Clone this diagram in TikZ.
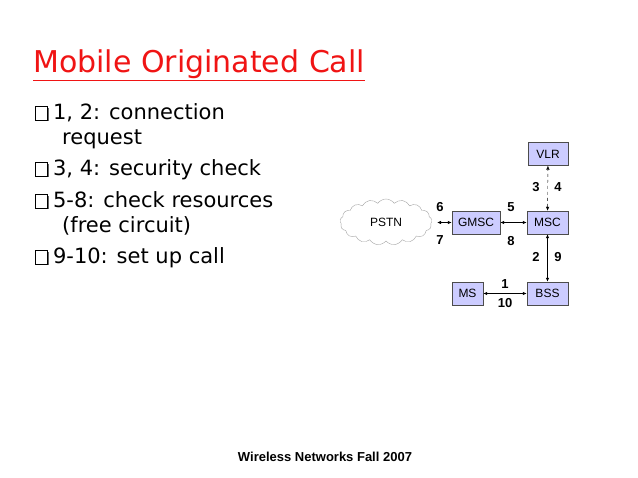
\documentclass[tikz,border=0pt]{standalone}
\usepackage{fontspec}
\setmainfont{DejaVu Sans}
\newfontfamily\arialf{Liberation Sans}
\usetikzlibrary{shapes.symbols,arrows.meta}
\definecolor{boxfill}{RGB}{204,204,255}
\definecolor{titlered}{RGB}{240,20,20}
\tikzset{
  netbox/.style={draw=black!70, fill=boxfill, minimum height=23pt, inner sep=0pt, font=\arialf\fontsize{12}{12}\selectfont},
  lbl/.style={font=\arialf\bfseries\fontsize{13}{13}\selectfont, inner sep=0pt},
  conn/.style={{Latex[length=4pt,width=3.5pt]}-{Latex[length=4pt,width=3.5pt]}, thick},
  bul/.style={anchor=base west, font=\fontsize{21}{21}\selectfont, inner sep=0pt},
}
\begin{document}
\begin{tikzpicture}[x=1pt,y=-1pt]
\useasboundingbox[fill=white] (0,0) rectangle (638,478);
\node[anchor=base west, inner sep=0pt, text=titlered, font=\fontsize{30}{30}\selectfont] (title) at (33,73) {\underline{Mobile Originated Call}};
\newcommand{\qbox}{\tikz[baseline=0pt]{\fill[black!60] (1.5pt,-1.5pt) rectangle (13.5pt,12pt);\draw[fill=white,line width=0.8pt] (0,0) rectangle (12pt,13.5pt);}\hspace{4pt}}
\node[bul] (b1) at (35,120) {\qbox 1, 2: connection};
\node[bul] (b1b) at (62,145) {request};
\node[bul] (b2) at (35,176) {\qbox 3, 4: security check};
\node[bul] (b3) at (35,208) {\qbox 5-8: check resources};
\node[bul] (b3b) at (62,233) {(free circuit)};
\node[bul] (b4) at (35,264) {\qbox 9-10: set up call};
\node[cloud, cloud puffs=17, cloud puff arc=110, aspect=2.2, draw=black!35, fill=white, minimum width=92pt, minimum height=46pt, font=\arialf\fontsize{12}{12}\selectfont] (pstn) at (386,222) {PSTN};
\node[netbox, minimum width=48pt] (gmsc) at (476,222.5) {GMSC};
\node[netbox, minimum width=41pt] (msc) at (547.5,222.5) {MSC};
\node[netbox, minimum width=40pt] (vlr) at (548,154) {VLR};
\node[netbox, minimum width=31pt] (ms) at (467.5,293.5) {MS};
\node[netbox, minimum width=41pt] (bss) at (547.5,293.5) {BSS};
\coordinate (pe) at (437,222.5);
\draw[conn] (pe) -- (gmsc);
\draw[conn] (gmsc) -- (msc);
\draw[conn, dashed, thin] (msc) -- (vlr);
\draw[conn] (msc) -- (bss);
\draw[conn] (ms) -- (bss);
\node[lbl] (l6) at (440,207) {6};
\node[lbl] (l7) at (440,240) {7};
\node[lbl] (l5) at (511,207) {5};
\node[lbl] (l8) at (511,241) {8};
\node[lbl] (l3) at (536,187) {3};
\node[lbl] (l4) at (558,187) {4};
\node[lbl] (l2) at (536,257) {2};
\node[lbl] (l9) at (558,257) {9};
\node[lbl] (l1) at (505,284) {1};
\node[lbl] (l10) at (505,303) {10};
\node[font=\arialf\bfseries\fontsize{13}{13}\selectfont, inner sep=0pt] (foot) at (325,457) {Wireless Networks Fall 2007};
\end{tikzpicture}
\end{document}
